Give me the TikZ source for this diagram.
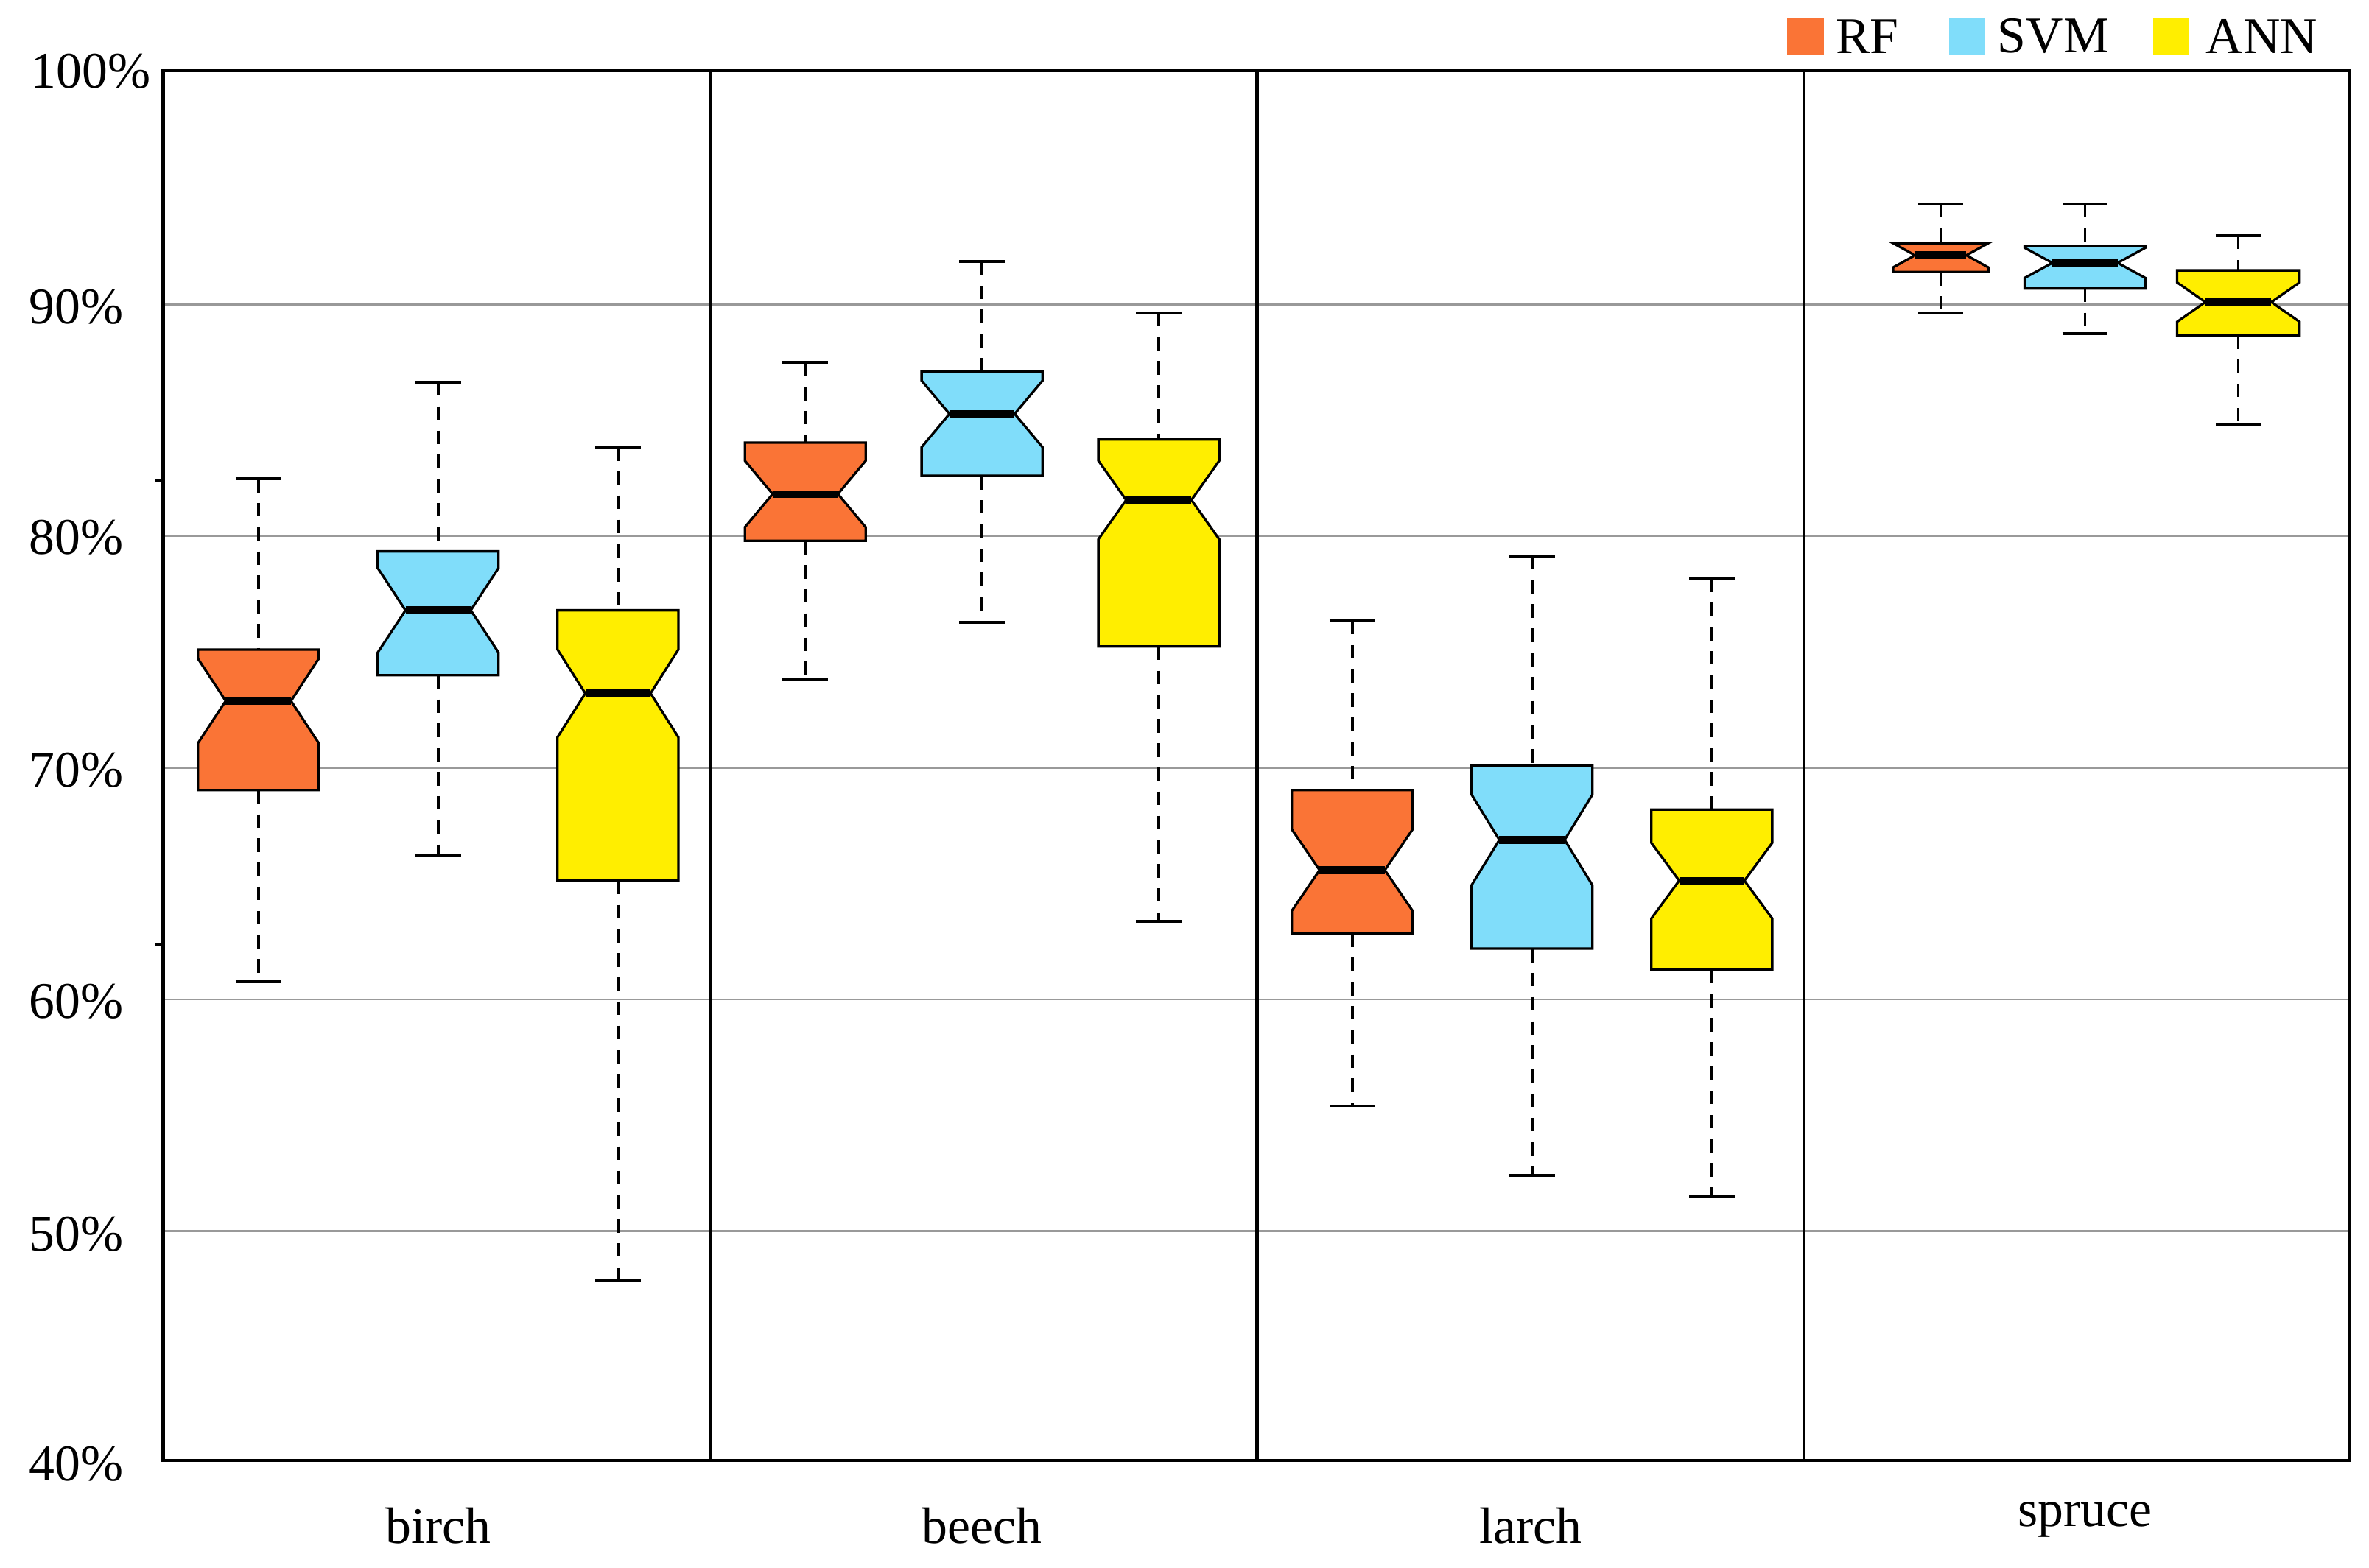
\documentclass[tikz,border=0pt]{standalone}
\usepackage{fontspec}
\setmainfont{Liberation Serif}
\definecolor{cRF}{HTML}{FA7436}
\definecolor{cSVM}{HTML}{80DDFA}
\definecolor{cANN}{HTML}{FFEE00}
\tikzset{grid line/.style={gray!80,line width=1.2pt},
 frame/.style={black,line width=2pt},
 boxout/.style={draw=black,line width=1.6pt},
 whisk/.style={black,line width=1.8pt,dash pattern=on 9pt off 7pt},
 capl/.style={black,line width=1.8pt},
 lab/.style={font=\fontsize{34}{40}\selectfont,inner sep=0pt}}
\newcommand{\bplot}[9]{%
 \pgfmathsetmacro{\xc}{(#1+#2)/2}%
 \pgfmathsetmacro{\ins}{(#2-#1)*0.23}%
 \pgfmathsetmacro{\nt}{max(#4,#5-#8)}%
 \pgfmathsetmacro{\nb}{min(#6,#5+#8)}%
 \draw[whisk] (\xc,#3) -- (\xc,#4);
 \draw[whisk] (\xc,#6) -- (\xc,#7);
 \draw[capl] (\xc-15,#3) -- (\xc+15,#3);
 \draw[capl] (\xc-15,#7) -- (\xc+15,#7);
 \draw[boxout,fill=#9] (#1,#4) -- (#2,#4) -- (#2,\nt) -- (#2-\ins,#5) -- (#2,\nb) -- (#2,#6)
   -- (#1,#6) -- (#1,\nb) -- (#1+\ins,#5) -- (#1,\nt) -- cycle;
 \draw[black,line width=5pt] (#1+\ins,#5) -- (#2-\ins,#5);
}
\begin{document}
\begin{tikzpicture}[x=1pt,y=-1pt]
\useasboundingbox[fill=white] (0,0) rectangle (1568,1038);
\foreach \yy in {201.7,355,508.3,661.7,815} \draw[grid line] (108,\yy) -- (1555,\yy);
\foreach \xx in {470,832,1194} \draw[frame] (\xx,47) -- (\xx,967);
\draw[frame] (108,47) rectangle (1555,967);
\draw[frame] (103,318) -- (108,318);
\draw[frame] (103,625) -- (108,625);
\node[lab,anchor=east] (t100) at (100,47) {100\%};
\node[lab,anchor=east] (t90) at (82,203) {90\%};
\node[lab,anchor=east] (t80) at (82,356) {80\%};
\node[lab,anchor=east] (t70) at (82,510) {70\%};
\node[lab,anchor=east] (t60) at (82,663) {60\%};
\node[lab,anchor=east] (t50) at (82,817) {50\%};
\node[lab,anchor=east] (t40) at (82,969) {40\%};
\node[lab] (c1) at (290,1010) {birch};
\node[lab] (c2) at (650,1010) {beech};
\node[lab] (c3) at (1013,1010) {larch};
\node[lab] (c4) at (1380,1006) {spruce};
% birch
\bplot{131}{211}{317}{430}{464}{523}{650}{28}{cRF}
\bplot{250}{330}{253}{365}{404}{447}{566}{28}{cSVM}
\bplot{369}{449}{296}{404}{459}{583}{848}{29}{cANN}
% beech
\bplot{493}{573}{240}{293}{327}{358}{450}{22}{cRF}
\bplot{610}{690}{173}{246}{274}{315}{412}{22}{cSVM}
\bplot{727}{807}{207}{291}{331}{428}{610}{26}{cANN}
% larch
\bplot{855}{935}{411}{523}{576}{618}{732}{27}{cRF}
\bplot{974}{1054}{368}{507}{556}{628}{778}{30}{cSVM}
\bplot{1093}{1173}{383}{536}{583}{642}{792}{25}{cANN}
% spruce
\bplot{1253}{1316}{135}{161}{169}{180}{207}{8}{cRF}
\bplot{1340}{1420}{135}{163}{174}{191}{221}{10}{cSVM}
\bplot{1441}{1522}{156}{179}{200}{222}{281}{13}{cANN}
% legend
\fill[cRF] (1183,12) rectangle (1207,36);
\node[lab,anchor=west] (lrf) at (1215,24) {RF};
\fill[cSVM] (1290,12) rectangle (1314,36);
\node[lab,anchor=west] (lsvm) at (1322,24) {SVM};
\fill[cANN] (1425,12) rectangle (1449,36);
\node[lab,anchor=west] (lann) at (1460,24) {ANN};
\end{tikzpicture}
\end{document}
